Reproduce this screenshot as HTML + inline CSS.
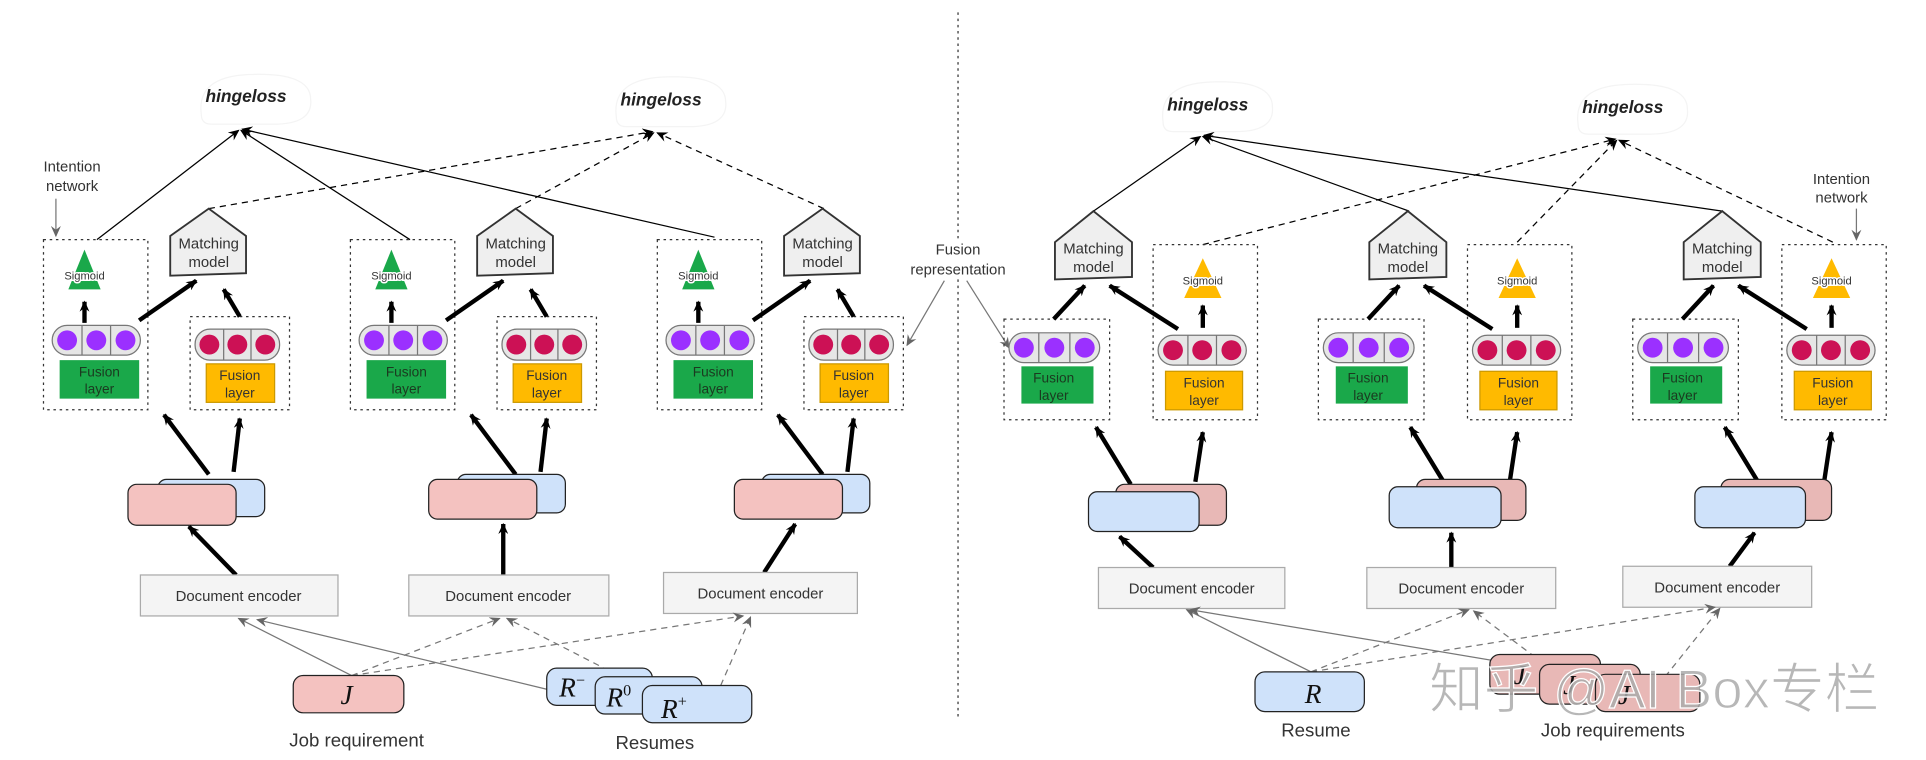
<!DOCTYPE html>
<html><head><meta charset="utf-8"><style>
html,body{margin:0;padding:0;background:#fff;}
svg{display:block;font-family:"Liberation Sans",sans-serif;}
.sf{font-family:"Liberation Serif",serif;}
</style></head><body>
<svg width="1926" height="760" viewBox="0 0 1550 612" preserveAspectRatio="none" xmlns="http://www.w3.org/2000/svg">
<defs>
<marker id="th" markerWidth="9" markerHeight="8" refX="8" refY="4" orient="auto" markerUnits="userSpaceOnUse"><path d="M0,0 L9,4 L0,8 L3,4 z" fill="#000"/></marker>
<marker id="tg" markerWidth="9" markerHeight="8" refX="8" refY="4" orient="auto" markerUnits="userSpaceOnUse"><path d="M0,0 L9,4 L0,8 L3,4 z" fill="#666"/></marker>
</defs>
<rect width="1550" height="612" fill="#fff"/>
<line x1="771" y1="10" x2="771" y2="578" stroke="#333" stroke-dasharray="2,3"/>

<g font-weight="bold" font-style="italic" font-size="14" text-anchor="middle" fill="#222">
<path d="M162,92 Q158,62 200,60 Q250,58 250,80 Q252,100 220,100 L170,100 Q162,100 162,92z" fill="#fff" stroke="#f4f4f4"/>
<text x="198" y="82">hingeloss</text>
<path d="M496,94 Q492,64 534,62 Q584,60 584,82 Q586,102 554,102 L504,102 Q496,102 496,94z" fill="#fff" stroke="#f4f4f4"/>
<text x="532" y="85">hingeloss</text>
<path d="M936,98 Q932,68 974,66 Q1024,64 1024,86 Q1026,106 994,106 L944,106 Q936,106 936,98z" fill="#fff" stroke="#f4f4f4"/>
<text x="972" y="89">hingeloss</text>
<path d="M1270,100 Q1266,70 1308,68 Q1358,66 1358,88 Q1360,108 1328,108 L1278,108 Q1270,108 1270,100z" fill="#fff" stroke="#f4f4f4"/>
<text x="1306" y="91">hingeloss</text>
</g>

<g stroke="#000" stroke-width="1" fill="none">
<line x1="78" y1="193" x2="192" y2="105" marker-end="url(#th)"/>
<line x1="330" y1="193" x2="194" y2="105" marker-end="url(#th)"/>
<line x1="575" y1="191" x2="195" y2="104" marker-end="url(#th)"/>
<g stroke-dasharray="5,4">
<line x1="168" y1="168" x2="525" y2="106" marker-end="url(#th)"/>
<line x1="415" y1="168" x2="526" y2="107" marker-end="url(#th)"/>
<line x1="663" y1="168" x2="529" y2="107" marker-end="url(#th)"/>
</g>
<line x1="880" y1="170" x2="966" y2="110" marker-end="url(#th)"/>
<line x1="1134" y1="170" x2="968" y2="110" marker-end="url(#th)"/>
<line x1="1386" y1="170" x2="969" y2="109" marker-end="url(#th)"/>
<g stroke-dasharray="5,4">
<line x1="968" y1="197" x2="1300" y2="112" marker-end="url(#th)"/>
<line x1="1221" y1="195" x2="1301" y2="113" marker-end="url(#th)"/>
<line x1="1475" y1="195" x2="1303" y2="113" marker-end="url(#th)"/>
</g>
</g>

<g id="lc">
<rect x="35" y="193" width="84" height="137" fill="none" stroke="#333" stroke-dasharray="2,3"/>
<polygon points="68,201 55,233 81,233" fill="#1aa84a"/>
<text x="68" y="225" font-size="9" text-anchor="middle" fill="#333" stroke="#fff" stroke-width="2.5" paint-order="stroke">Sigmoid</text>
<line x1="68" y1="260" x2="68" y2="243" stroke="#000" stroke-width="3.5" marker-end="url(#th)"/>
<rect x="42" y="262" width="71" height="24" rx="12" fill="#e6e6e6" stroke="#777"/>
<line x1="66" y1="262" x2="66" y2="286" stroke="#777"/><line x1="89" y1="262" x2="89" y2="286" stroke="#777"/>
<circle cx="54" cy="274" r="8" fill="#9b30ff"/><circle cx="77.5" cy="274" r="8" fill="#9b30ff"/><circle cx="101" cy="274" r="8" fill="#9b30ff"/>
<rect x="48" y="290" width="64" height="31" fill="#1aa84a"/>
<text x="80" y="303" font-size="11" text-anchor="middle" fill="#1b3a20">Fusion</text>
<text x="80" y="317" font-size="11" text-anchor="middle" fill="#1b3a20">layer</text>
<polygon points="168,168 198,190 198,220 137,222 137,190" fill="#efefef" stroke="#333" stroke-width="1.5"/>
<text x="168" y="200" font-size="12" text-anchor="middle" fill="#333">Matching</text>
<text x="168" y="215" font-size="12" text-anchor="middle" fill="#333">model</text>
<rect x="153" y="255" width="80" height="75" fill="none" stroke="#333" stroke-dasharray="2,3"/>
<rect x="157" y="265" width="68" height="25" rx="12" fill="#e6e6e6" stroke="#777"/>
<line x1="180" y1="265" x2="180" y2="290" stroke="#777"/><line x1="202" y1="265" x2="202" y2="290" stroke="#777"/>
<circle cx="168.5" cy="277.5" r="8" fill="#cc1155"/><circle cx="191" cy="277.5" r="8" fill="#cc1155"/><circle cx="213.5" cy="277.5" r="8" fill="#cc1155"/>
<rect x="166" y="293" width="55" height="31" fill="#ffba00" stroke="#c90"/>
<text x="193" y="306" font-size="11" text-anchor="middle" fill="#333">Fusion</text>
<text x="193" y="320" font-size="11" text-anchor="middle" fill="#333">layer</text>
<line x1="112" y1="258" x2="158" y2="226" stroke="#000" stroke-width="3.5" marker-end="url(#th)"/>
<line x1="193" y1="255" x2="180" y2="233" stroke="#000" stroke-width="3.5" marker-end="url(#th)"/>
<line x1="168" y1="382" x2="132" y2="334" stroke="#000" stroke-width="3.5" marker-end="url(#th)"/>
<line x1="188" y1="380" x2="193" y2="337" stroke="#000" stroke-width="3.5" marker-end="url(#th)"/>
</g>
<use href="#lc" x="247" y="0"/>
<use href="#lc" x="494" y="0"/>

<g stroke="#222" stroke-width="1">
<rect x="127" y="386" width="86" height="30" rx="7" fill="#cfe2fa"/>
<rect x="103" y="390" width="87" height="33" rx="7" fill="#f4c2c0"/>
<rect x="368" y="382" width="87" height="31" rx="7" fill="#cfe2fa"/>
<rect x="345" y="386" width="87" height="32" rx="7" fill="#f4c2c0"/>
<rect x="613" y="382" width="87" height="31" rx="7" fill="#cfe2fa"/>
<rect x="591" y="386" width="87" height="32" rx="7" fill="#f4c2c0"/>
</g>
<g stroke="#000" stroke-width="3.5">
<line x1="190" y1="463" x2="152" y2="424" marker-end="url(#th)"/>
<line x1="405" y1="463" x2="405" y2="422" marker-end="url(#th)"/>
<line x1="615" y1="461" x2="640" y2="422" marker-end="url(#th)"/>
</g>
<g font-size="12" text-anchor="middle" fill="#333">
<rect x="113" y="463" width="159" height="33" fill="#f4f4f4" stroke="#aaa"/><text x="192" y="484">Document encoder</text>
<rect x="329" y="463" width="161" height="33" fill="#f4f4f4" stroke="#aaa"/><text x="409" y="484">Document encoder</text>
<rect x="534" y="461" width="156" height="33" fill="#f4f4f4" stroke="#aaa"/><text x="612" y="482">Document encoder</text>
</g>

<g stroke="#777" stroke-width="1" fill="none">
<line x1="283" y1="544" x2="192" y2="498" marker-end="url(#tg)"/>
<line x1="440" y1="555" x2="207" y2="499" marker-end="url(#tg)"/>
<g stroke-dasharray="5,4">
<line x1="283" y1="544" x2="402" y2="498" marker-end="url(#tg)"/>
<line x1="283" y1="544" x2="598" y2="496" marker-end="url(#tg)"/>
<line x1="490" y1="540" x2="408" y2="498" marker-end="url(#tg)"/>
<line x1="580" y1="552" x2="604" y2="497" marker-end="url(#tg)"/>
</g>
</g>
<g stroke="#222">
<rect x="236" y="544" width="89" height="30" rx="8" fill="#f4c2c0"/>
<rect x="440" y="538" width="85" height="30" rx="8" fill="#cfe2fa"/>
<rect x="479" y="545" width="86" height="30" rx="8" fill="#cfe2fa"/>
<rect x="517" y="552" width="88" height="30" rx="8" fill="#cfe2fa"/>
</g>
<g class="sf" font-style="italic" font-size="22" fill="#111">
<text x="274" y="567">J</text>
<text x="450" y="561">R<tspan font-size="13" dy="-9" font-style="normal">−</tspan></text>
<text x="488" y="569">R<tspan font-size="13" dy="-9" font-style="normal">0</tspan></text>
<text x="532" y="578">R<tspan font-size="13" dy="-9" font-style="normal">+</tspan></text>
</g>
<g font-size="15" text-anchor="middle" fill="#333">
<text x="287" y="601">Job requirement</text>
<text x="527" y="603">Resumes</text>
</g>
<g font-size="12" text-anchor="middle" fill="#333">
<text x="58" y="138">Intention</text><text x="58" y="154">network</text>
<text x="1482" y="148">Intention</text><text x="1482" y="163">network</text>
</g>
<line x1="45" y1="160" x2="45" y2="190" stroke="#777" marker-end="url(#tg)"/>
<line x1="1494" y1="168" x2="1494" y2="193" stroke="#777" marker-end="url(#tg)"/>
<rect x="735" y="192" width="72" height="32" fill="#fff"/>
<text x="771" y="205" font-size="12" text-anchor="middle" fill="#333">Fusion</text>
<text x="771" y="221" font-size="12" text-anchor="middle" fill="#333">representation</text>
<line x1="760" y1="226" x2="730" y2="278" stroke="#777" marker-end="url(#tg)"/>
<line x1="778" y1="226" x2="812" y2="280" stroke="#777" marker-end="url(#tg)"/>

<g id="rc">
<rect x="808" y="257" width="85" height="81" fill="none" stroke="#333" stroke-dasharray="2,3"/>
<rect x="812" y="268" width="73" height="24" rx="12" fill="#e6e6e6" stroke="#777"/>
<line x1="836" y1="268" x2="836" y2="292" stroke="#777"/><line x1="861" y1="268" x2="861" y2="292" stroke="#777"/>
<circle cx="824" cy="280" r="8" fill="#9b30ff"/><circle cx="848.5" cy="280" r="8" fill="#9b30ff"/><circle cx="873" cy="280" r="8" fill="#9b30ff"/>
<rect x="822" y="295" width="58" height="30" fill="#1aa84a"/>
<text x="848" y="308" font-size="11" text-anchor="middle" fill="#1b3a20">Fusion</text>
<text x="848" y="322" font-size="11" text-anchor="middle" fill="#1b3a20">layer</text>
<polygon points="880,170 911,195 911,223 849,225 849,195" fill="#efefef" stroke="#333" stroke-width="1.5"/>
<text x="880" y="204" font-size="12" text-anchor="middle" fill="#333">Matching</text>
<text x="880" y="219" font-size="12" text-anchor="middle" fill="#333">model</text>
<rect x="928" y="197" width="84" height="141" fill="none" stroke="#333" stroke-dasharray="2,3"/>
<polygon points="968,208 953,240 983,240" fill="#ffba00"/>
<text x="968" y="229" font-size="9" text-anchor="middle" fill="#333" stroke="#fff" stroke-width="2.5" paint-order="stroke">Sigmoid</text>
<line x1="968" y1="264" x2="968" y2="246" stroke="#000" stroke-width="3.5" marker-end="url(#th)"/>
<rect x="932" y="270" width="71" height="24" rx="12" fill="#e6e6e6" stroke="#777"/>
<line x1="956" y1="270" x2="956" y2="294" stroke="#777"/><line x1="979" y1="270" x2="979" y2="294" stroke="#777"/>
<circle cx="944" cy="282" r="8" fill="#cc1155"/><circle cx="967.5" cy="282" r="8" fill="#cc1155"/><circle cx="991" cy="282" r="8" fill="#cc1155"/>
<rect x="938" y="299" width="62" height="31" fill="#ffba00" stroke="#c90"/>
<text x="969" y="312" font-size="11" text-anchor="middle" fill="#333">Fusion</text>
<text x="969" y="326" font-size="11" text-anchor="middle" fill="#333">layer</text>
<line x1="848" y1="257" x2="873" y2="230" stroke="#000" stroke-width="3.5" marker-end="url(#th)"/>
<line x1="948" y1="265" x2="893" y2="230" stroke="#000" stroke-width="3.5" marker-end="url(#th)"/>
<line x1="910" y1="390" x2="882" y2="344" stroke="#000" stroke-width="3.5" marker-end="url(#th)"/>
<line x1="962" y1="388" x2="968" y2="348" stroke="#000" stroke-width="3.5" marker-end="url(#th)"/>
</g>
<use href="#rc" x="253" y="0"/>
<use href="#rc" x="506" y="0"/>

<g stroke="#222">
<rect x="898" y="390" width="89" height="33" rx="7" fill="#e8b8b6"/>
<rect x="876" y="396" width="89" height="32" rx="7" fill="#cfe2fa"/>
<rect x="1140" y="386" width="88" height="33" rx="7" fill="#e8b8b6"/>
<rect x="1118" y="392" width="90" height="33" rx="7" fill="#cfe2fa"/>
<rect x="1385" y="386" width="89" height="33" rx="7" fill="#e8b8b6"/>
<rect x="1364" y="392" width="89" height="33" rx="7" fill="#cfe2fa"/>
</g>
<g stroke="#000" stroke-width="3.5">
<line x1="928" y1="457" x2="901" y2="432" marker-end="url(#th)"/>
<line x1="1168" y1="457" x2="1168" y2="429" marker-end="url(#th)"/>
<line x1="1392" y1="456" x2="1412" y2="429" marker-end="url(#th)"/>
</g>
<g font-size="12" text-anchor="middle" fill="#333">
<rect x="884" y="457" width="150" height="33" fill="#f4f4f4" stroke="#aaa"/><text x="959" y="478">Document encoder</text>
<rect x="1100" y="457" width="152" height="33" fill="#f4f4f4" stroke="#aaa"/><text x="1176" y="478">Document encoder</text>
<rect x="1306" y="456" width="152" height="33" fill="#f4f4f4" stroke="#aaa"/><text x="1382" y="477">Document encoder</text>
</g>
<g stroke="#777" stroke-width="1" fill="none">
<line x1="1055" y1="541" x2="955" y2="491" marker-end="url(#tg)"/>
<line x1="1250" y1="540" x2="958" y2="491" marker-end="url(#tg)"/>
<g stroke-dasharray="5,4">
<line x1="1055" y1="541" x2="1182" y2="491" marker-end="url(#tg)"/>
<line x1="1055" y1="541" x2="1380" y2="489" marker-end="url(#tg)"/>
<line x1="1250" y1="540" x2="1186" y2="492" marker-end="url(#tg)"/>
<line x1="1340" y1="545" x2="1384" y2="490" marker-end="url(#tg)"/>
</g>
</g>
<g stroke="#222">
<rect x="1010" y="541" width="88" height="32" rx="8" fill="#cfe2fa"/>
<rect x="1199" y="527" width="89" height="32" rx="8" fill="#e8b8b6"/>
<rect x="1239" y="535" width="81" height="32" rx="8" fill="#e8b8b6"/>
<rect x="1284" y="543" width="84" height="30" rx="8" fill="#e8b8b6"/>
</g>
<g class="sf" font-style="italic" font-size="22" fill="#111">
<text x="1050" y="566">R</text>
<text x="1218" y="551">J</text><text x="1258" y="559">J</text><text x="1302" y="567">J</text>
</g>
<g font-size="15" text-anchor="middle" fill="#333">
<text x="1059" y="593">Resume</text>
<text x="1298" y="593">Job requirements</text>
</g>
<text x="1150" y="570" style="font-family:'Liberation Sans','Noto Sans CJK SC',sans-serif" font-size="44" fill="#aaa" fill-opacity="0.85" stroke="#fff" stroke-width="1">知乎 @AI Box专栏</text>
</svg>
</body></html>
